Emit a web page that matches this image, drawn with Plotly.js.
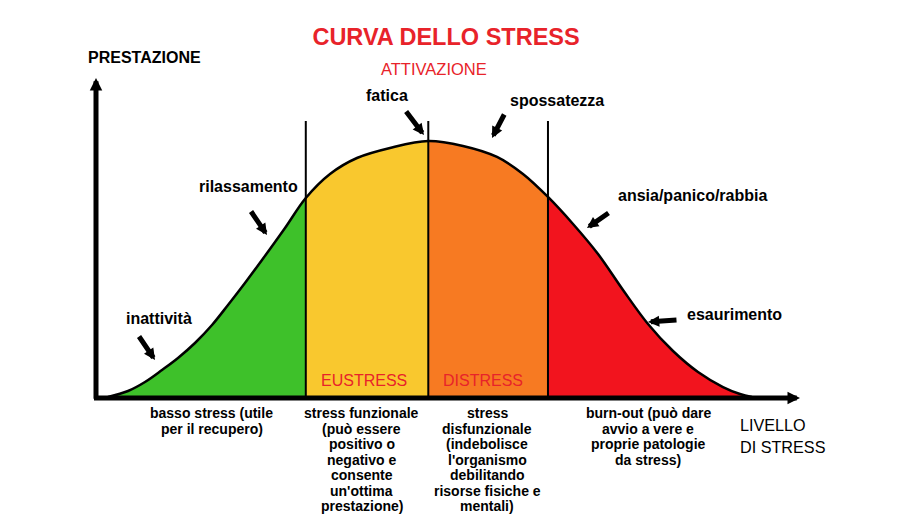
<!DOCTYPE html>
<html>
<head>
<meta charset="utf-8">
<script src="https://cdn.plot.ly/plotly-3.0.1.min.js"></script>
<style>html,body{margin:0;padding:0;background:#fff;}#chart{width:900px;height:532px;}</style>
</head>
<body>
<div id="chart"></div>
<script>
// ---- data ----
const stressLevel = [1.7, 4.55, 6.96, 9.38, 11.65, 14.06, 16.48, 18.75, 21.16, 23.58, 26.85, 29.8, 33.24, 37.07, 41.76, 47.2, 52.13, 56.96, 60.65, 64.2, 67.76, 71.31, 74.86, 78.41, 81.96, 85.51, 89.06, 91.48, 93.18];
const performance = [0, 1.88, 4.70, 8.46, 12.23, 16.93, 22.57, 28.84, 35.74, 42.95, 52.98, 62.38, 69.91, 74.92, 78.06, 80.25, 78.68, 75.24, 69.91, 62.70, 54.23, 44.83, 33.54, 22.88, 14.42, 7.84, 3.13, 0.94, 0];
const zoneEdges = [1.7, 29.8, 47.2, 64.2, 93.18];
const zoneColors = ['#3ec12a', '#f9c82e', '#f77a22', '#f2141e'];
const dividerX = [29.8, 47.2, 64.2];
const dividerTop = 86.5;
const zoneTitles = ['EUSTRESS', 'DISTRESS'];
const zoneTitleX = [38.0, 54.97];
const curveNotes = ['inattività', 'rilassamento', 'fatica', 'spossatezza', 'ansia/panico/rabbia', 'esaurimento'];
const bottomNotes = [
  ['basso stress (utile', 'per il recupero)'],
  ['stress funzionale', '(può essere', 'positivo o', 'negativo e', 'consente', "un'ottima", 'prestazione)'],
  ['stress', 'disfunzionale', '(indebolisce', "l'organismo", 'debilitando', 'risorse fisiche e', 'mentali)'],
  ['burn-out (può dare', 'avvio a vere e', 'proprie patologie', 'da stress)']
];
const bottomNoteX = [16.41, 37.74, 55.54, 78.41];

// ---- build ----
const F = 'Liberation Sans, Arial, sans-serif';
const RED = '#e8232a';
const traces = [];
zoneColors.forEach((c, i) => {
  const xs = [], ys = [];
  stressLevel.forEach((x, k) => {
    if (x >= zoneEdges[i] - 1e-9 && x <= zoneEdges[i + 1] + 1e-9) { xs.push(x); ys.push(performance[k]); }
  });
  traces.push({x: xs, y: ys, type: 'scatter', mode: 'lines', fill: 'tozeroy', fillcolor: c,
    line: {width: 0, color: c, shape: 'spline', smoothing: 1}, hoverinfo: 'skip', showlegend: false});
});
traces.push({x: stressLevel, y: performance, type: 'scatter', mode: 'lines',
  line: {width: 2.5, color: '#000', shape: 'spline', smoothing: 1}, hoverinfo: 'skip', showlegend: false});
dividerX.forEach(x => {
  traces.push({x: [x, x], y: [0, dividerTop], type: 'scatter', mode: 'lines',
    line: {width: 2, color: '#000'}, hoverinfo: 'skip', showlegend: false});
});

const ann = [];
function label(text, x, y, size, color, opts) {
  ann.push(Object.assign({x, y, xref: 'x', yref: 'y', text, showarrow: false,
    font: {family: F, size, color}, xanchor: 'center', yanchor: 'middle'}, opts || {}));
}
function arrow(x, y, ax, ay, w, head, size) {
  ann.push({x, y, ax, ay, xref: 'x', yref: 'y', axref: 'x', ayref: 'y', text: '', showarrow: true,
    arrowhead: head, arrowsize: size, arrowwidth: w, arrowcolor: '#000', standoff: 0});
}
// axes with arrows
arrow(100, -0.3, -0.5, -0.3, 5, 2, 0.5);
arrow(0, 100, 0, -1, 5, 2, 0.5);

label('<b>PRESTAZIONE</b>', 6.82, 106.58, 16, '#000');
label('ATTIVAZIONE', 48.01, 102.82, 16.5, RED);
label('LIVELLO', 91.19, -8.78, 16.2, '#000', {xanchor: 'left'});
label('DI STRESS', 91.19, -15.67, 16.2, '#000', {xanchor: 'left'});

const notePos = [[8.88, 24.76], [21.73, 66.14], [41.34, 94.67], [65.48, 93.10], [84.66, 63.32], [90.70, 25.71]];
curveNotes.forEach((t, i) => label('<b>' + t + '</b>', notePos[i][0], notePos[i][1], 16, '#000'));
const arrowPos = [
  [8.38, 11.60, 5.97, 19.44],
  [24.29, 50.78, 21.88, 58.62],
  [46.59, 82.13, 43.89, 89.97],
  [56.25, 81.19, 58.10, 89.03],
  [69.74, 52.98, 73.01, 57.99],
  [78.41, 23.51, 82.67, 24.14]
];
arrowPos.forEach(p => arrow(p[0], p[1], p[2], p[3], 5, 2, 0.45));

zoneTitles.forEach((t, i) => label(t, zoneTitleX[i], 5.02, 16, RED));

bottomNotes.forEach((lines, c) => {
  lines.forEach((t, j) => label('<b>' + t + '</b>', bottomNoteX[c], -5.17 - 4.83 * j, 14, '#000'));
});

const layout = {
  width: 900, height: 532,
  margin: {l: 0, r: 0, t: 0, b: 0},
  paper_bgcolor: '#fff', plot_bgcolor: '#fff',
  title: {text: '<b>CURVA DELLO STRESS</b>', x: 0.4956, xanchor: 'center', y: 0.930, yanchor: 'middle',
    font: {family: F, size: 23.5, color: RED}},
  xaxis: {range: [-13.636, 114.205], visible: false, fixedrange: true},
  yaxis: {range: [-42.32, 124.45], visible: false, fixedrange: true},
  annotations: ann,
  showlegend: false
};
Plotly.newPlot('chart', traces, layout, {displayModeBar: false, staticPlot: true});
</script>
</body>
</html>
